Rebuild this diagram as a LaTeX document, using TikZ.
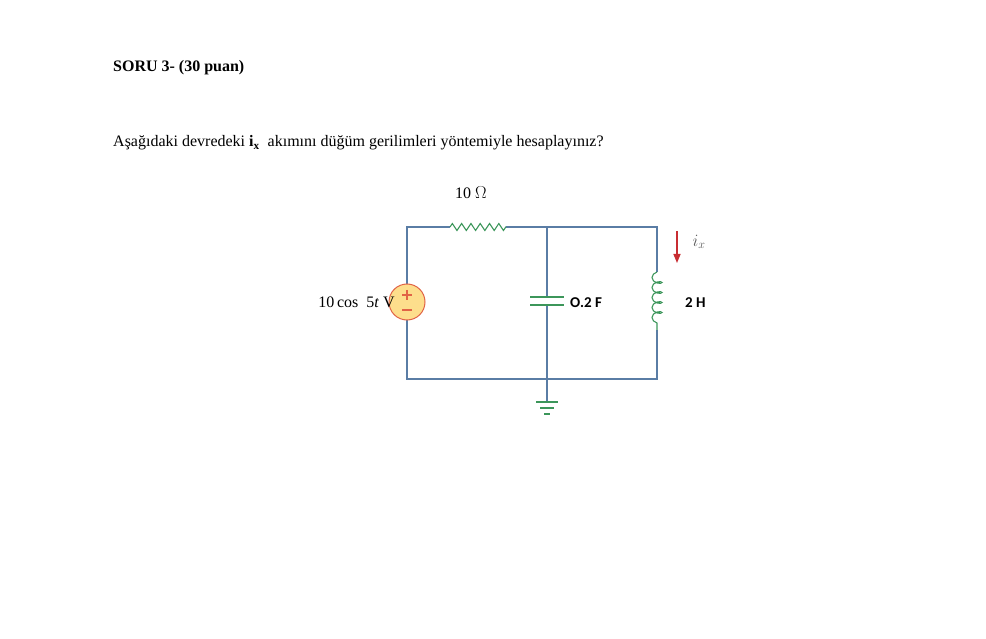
\documentclass[tikz,border=0pt]{standalone}
\usepackage{fontspec}
\setmainfont{Liberation Serif}
\newfontfamily\carlitofont{Carlito}
\usetikzlibrary{decorations.pathmorphing,arrows.meta}
\definecolor{wire}{RGB}{90,125,165}
\definecolor{comp}{RGB}{60,150,90}
\definecolor{srcf}{RGB}{253,222,140}
\definecolor{srcd}{RGB}{225,100,70}
\definecolor{arr}{RGB}{200,45,50}
\begin{document}
\begin{tikzpicture}[x=1pt,y=-1pt,
 wireline/.style={draw=wire,line width=1.1pt},
 compline/.style={draw=comp,line width=1.1pt},
 lbl/.style={inner sep=0pt}]
\useasboundingbox (0,0) rectangle (986,639);
\node[lbl,anchor=west,font=\fontsize{16}{18}\selectfont\bfseries] (title) at (113,68) {SORU 3- (30 puan)};
\node[lbl,anchor=west,font=\fontsize{16}{18}\selectfont] (q) at (113,143) {Aşağıdaki devredeki \textbf{i\textsubscript{x}}\ \ akımını düğüm gerilimleri yöntemiyle hesaplayınız?};
\coordinate (tl) at (407,227); \coordinate (tm) at (547,227); \coordinate (tr) at (657,227);
\coordinate (bl) at (407,379); \coordinate (bm) at (547,379); \coordinate (br) at (657,379);
\coordinate (r1) at (450,227); \coordinate (r2) at (506,227);
\coordinate (c1) at (547,297); \coordinate (c2) at (547,305);
\coordinate (l1) at (657,272); \coordinate (l2) at (657,330);
\coordinate (g) at (547,402);
\draw[wireline] (r1) -- (tl) -- (bl) -- (br) -- (l2);
\draw[wireline] (r2) -- (tr) -- (l1);
\draw[wireline] (tm) -- (c1); \draw[wireline] (c2) -- (bm) -- (g);
\draw[compline,decorate,decoration={zigzag,segment length=9.3pt,amplitude=3.5pt}] (r1) -- (r2);
\draw[compline] (530,297) -- (564,297); \draw[compline] (530,305) -- (564,305);
\draw[compline,decorate,decoration={coil,aspect=0.6,segment length=10pt,amplitude=5pt,mirror}] (l1) -- (l2);
\draw[compline] (536,402) -- (558,402); \draw[compline] (540,408) -- (554,408); \draw[compline] (544,414) -- (550,414);
\node[circle,minimum size=36pt,fill=srcf,draw=srcd,line width=1pt,inner sep=0pt] (src) at (407,302) {};
\draw[srcd,line width=1.3pt] (402,295)--(412,295) (407,290)--(407,300) (402,310)--(412,310);
\node[lbl,font=\fontsize{16}{18}\selectfont] (rl) at (471,193) {10 $\Omega$};
\node[lbl,anchor=east,font=\fontsize{16}{18}\selectfont] (sl) at (395,302) {10\,cos\ \ 5\textit{t} V};
\node[lbl,anchor=west,font=\carlitofont\fontsize{15}{18}\selectfont\bfseries] (cl) at (570,303) {O.2 F};
\node[lbl,anchor=west,font=\carlitofont\fontsize{15}{18}\selectfont\bfseries] (ll) at (685,303) {2 H};
\coordinate (a1) at (677,231); \coordinate (a2) at (677,263);
\draw[arr,line width=1.5pt,-{Triangle[length=9pt,width=7pt]}] (a1) -- (a2);
\node[lbl,font=\fontsize{17}{18}\selectfont,text=gray!70!black] (ix) at (699,242) {$i_x$};
\end{tikzpicture}
\end{document}
